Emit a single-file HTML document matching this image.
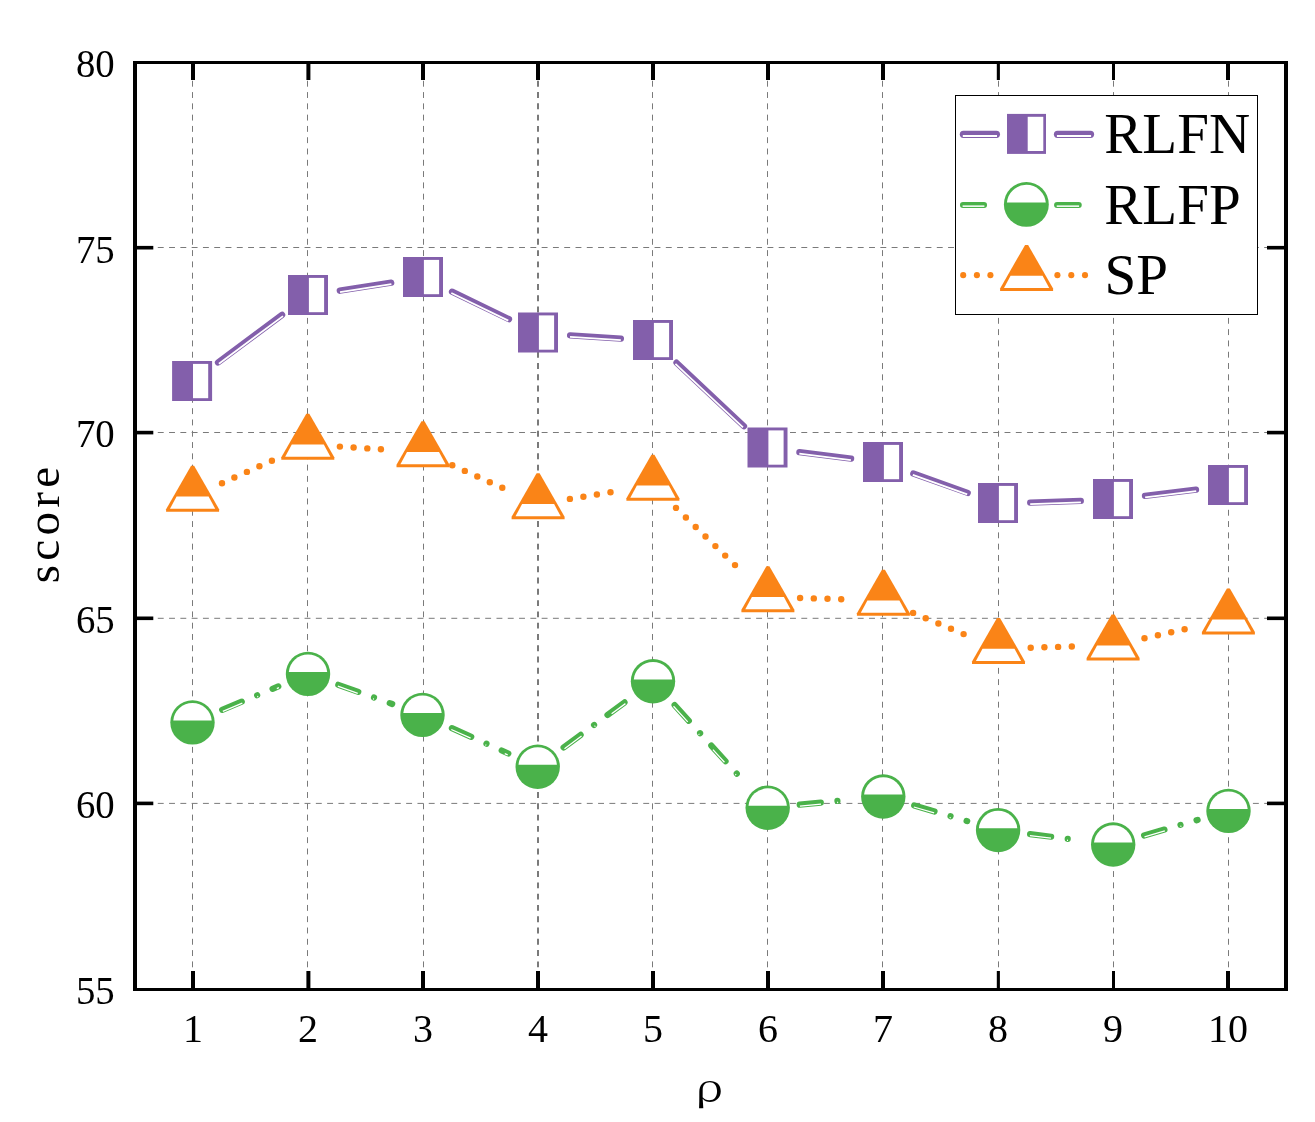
<!DOCTYPE html>
<html><head><meta charset="utf-8"><title>score vs ρ</title>
<style>html,body{margin:0;padding:0;background:#fff;}svg{display:block;}</style></head>
<body>
<svg width="1315" height="1122" viewBox="0 0 1315 1122">
<rect x="0" y="0" width="1315" height="1122" fill="#fff"/>
<g stroke="#7a7a7a" stroke-width="1" stroke-dasharray="5.9 5.39" fill="none">
<line x1="192.5" y1="69.5" x2="192.5" y2="988"/>
<line x1="307.5" y1="69.5" x2="307.5" y2="988"/>
<line x1="423.5" y1="69.5" x2="423.5" y2="988"/>
<line x1="538" y1="69.5" x2="538" y2="988" stroke-width="2"/>
<line x1="652.5" y1="69.5" x2="652.5" y2="988"/>
<line x1="767.5" y1="69.5" x2="767.5" y2="988"/>
<line x1="882.5" y1="69.5" x2="882.5" y2="988"/>
<line x1="998.5" y1="69.5" x2="998.5" y2="988"/>
<line x1="1113.5" y1="69.5" x2="1113.5" y2="988"/>
<line x1="1228.5" y1="69.5" x2="1228.5" y2="988"/>
<line x1="146.5" y1="247.5" x2="1284" y2="247.5"/>
<line x1="146.5" y1="432.5" x2="1284" y2="432.5"/>
<line x1="146.5" y1="618.3" x2="1284" y2="618.3"/>
<line x1="146.5" y1="803.4" x2="1284" y2="803.4"/>
</g>
<g fill="none" stroke-linecap="round">
<line x1="218.0" y1="362.5" x2="282.1" y2="314.9" stroke="#835FAB" stroke-width="6.3"/>
<line x1="218.9" y1="363.7" x2="283.0" y2="316.1" stroke="#fff" stroke-width="1.8" stroke-linecap="butt"/>
<line x1="339.8" y1="290.7" x2="391.2" y2="282.7" stroke="#835FAB" stroke-width="6.3"/>
<line x1="340.0" y1="292.2" x2="391.4" y2="284.2" stroke="#fff" stroke-width="1.8" stroke-linecap="butt"/>
<line x1="452.0" y1="291.7" x2="509.0" y2="319.2" stroke="#835FAB" stroke-width="6.3"/>
<line x1="451.3" y1="293.0" x2="508.3" y2="320.6" stroke="#fff" stroke-width="1.8" stroke-linecap="butt"/>
<line x1="570.1" y1="335.3" x2="620.9" y2="338.6" stroke="#835FAB" stroke-width="6.3"/>
<line x1="570.0" y1="336.8" x2="620.8" y2="340.1" stroke="#fff" stroke-width="1.8" stroke-linecap="butt"/>
<line x1="676.5" y1="362.7" x2="744.0" y2="426.2" stroke="#835FAB" stroke-width="6.3"/>
<line x1="675.4" y1="363.8" x2="743.0" y2="427.3" stroke="#fff" stroke-width="1.8" stroke-linecap="butt"/>
<line x1="799.4" y1="452.2" x2="851.1" y2="458.7" stroke="#835FAB" stroke-width="6.3"/>
<line x1="799.3" y1="453.7" x2="850.9" y2="460.2" stroke="#fff" stroke-width="1.8" stroke-linecap="butt"/>
<line x1="913.3" y1="473.5" x2="967.7" y2="492.9" stroke="#835FAB" stroke-width="6.3"/>
<line x1="912.8" y1="474.9" x2="967.2" y2="494.3" stroke="#fff" stroke-width="1.8" stroke-linecap="butt"/>
<line x1="1030.2" y1="502.6" x2="1080.8" y2="500.8" stroke="#835FAB" stroke-width="6.3"/>
<line x1="1030.2" y1="504.1" x2="1080.9" y2="502.3" stroke="#fff" stroke-width="1.8" stroke-linecap="butt"/>
<line x1="1145.0" y1="495.8" x2="1196.0" y2="489.6" stroke="#835FAB" stroke-width="6.3"/>
<line x1="1145.1" y1="497.3" x2="1196.2" y2="491.1" stroke="#fff" stroke-width="1.8" stroke-linecap="butt"/>
<line x1="222.2" y1="709.9" x2="278.3" y2="686.4" stroke="#4AB24A" stroke-width="6.2" stroke-dasharray="21.2 16.7 0.01 16.7"/>
<line x1="222.8" y1="711.3" x2="278.9" y2="687.7" stroke="#fff" stroke-width="1.3" stroke-linecap="butt" stroke-dasharray="21.2 16.2 1 20.2 17.2 16.2 1 100"/>
<line x1="338.3" y1="684.8" x2="392.2" y2="704.0" stroke="#4AB24A" stroke-width="6.2" stroke-dasharray="21.2 16.7 0.01 16.7"/>
<line x1="337.8" y1="686.2" x2="391.7" y2="705.5" stroke="#fff" stroke-width="1.3" stroke-linecap="butt" stroke-dasharray="21.2 16.2 1 20.2 17.2 16.2 1 100"/>
<line x1="451.9" y1="728.1" x2="508.3" y2="753.5" stroke="#4AB24A" stroke-width="6.2" stroke-dasharray="21.2 16.7 0.01 16.7"/>
<line x1="451.3" y1="729.5" x2="507.7" y2="754.9" stroke="#fff" stroke-width="1.3" stroke-linecap="butt" stroke-dasharray="21.2 16.2 1 20.2 17.2 16.2 1 100"/>
<line x1="563.6" y1="747.5" x2="627.1" y2="700.5" stroke="#4AB24A" stroke-width="6.2" stroke-dasharray="21.2 16.7 0.01 16.7"/>
<line x1="564.5" y1="748.7" x2="628.0" y2="701.7" stroke="#fff" stroke-width="1.3" stroke-linecap="butt" stroke-dasharray="21.2 16.2 1 20.2 17.2 16.2 1 100"/>
<line x1="674.6" y1="705.1" x2="746.1" y2="783.9" stroke="#4AB24A" stroke-width="6.2" stroke-dasharray="21.2 16.7 0.01 16.7"/>
<line x1="673.5" y1="706.2" x2="745.0" y2="784.9" stroke="#fff" stroke-width="1.3" stroke-linecap="butt" stroke-dasharray="21.2 16.2 1 20.2 17.2 16.2 1 100"/>
<line x1="799.7" y1="804.6" x2="851.3" y2="799.6" stroke="#4AB24A" stroke-width="6.2" stroke-dasharray="21.2 16.7 0.01 16.7"/>
<line x1="799.9" y1="806.1" x2="851.4" y2="801.1" stroke="#fff" stroke-width="1.3" stroke-linecap="butt" stroke-dasharray="21.2 16.2 1 20.2 17.2 16.2 1 100"/>
<line x1="914.2" y1="805.5" x2="967.2" y2="821.1" stroke="#4AB24A" stroke-width="6.2" stroke-dasharray="21.2 16.7 0.01 16.7"/>
<line x1="913.8" y1="807.0" x2="966.8" y2="822.5" stroke="#fff" stroke-width="1.3" stroke-linecap="butt" stroke-dasharray="21.2 16.2 1 20.2 17.2 16.2 1 100"/>
<line x1="1030.1" y1="834.1" x2="1081.2" y2="840.5" stroke="#4AB24A" stroke-width="6.2" stroke-dasharray="21.2 16.7 0.01 16.7"/>
<line x1="1029.9" y1="835.6" x2="1081.1" y2="842.0" stroke="#fff" stroke-width="1.3" stroke-linecap="butt" stroke-dasharray="21.2 16.2 1 20.2 17.2 16.2 1 100"/>
<line x1="1144.1" y1="835.5" x2="1197.6" y2="819.9" stroke="#4AB24A" stroke-width="6.2" stroke-dasharray="21.2 16.7 0.01 16.7"/>
<line x1="1144.5" y1="836.9" x2="1198.0" y2="821.3" stroke="#fff" stroke-width="1.3" stroke-linecap="butt" stroke-dasharray="21.2 16.2 1 20.2 17.2 16.2 1 100"/>
</g>
<g fill="#FA8417">
<circle cx="222.0" cy="483.2" r="3.2"/>
<circle cx="234.4" cy="477.5" r="3.2"/>
<circle cx="246.9" cy="471.9" r="3.2"/>
<circle cx="259.4" cy="466.3" r="3.2"/>
<circle cx="271.9" cy="460.7" r="3.2"/>
<circle cx="339.9" cy="446.6" r="3.2"/>
<circle cx="353.6" cy="447.5" r="3.2"/>
<circle cx="367.3" cy="448.4" r="3.2"/>
<circle cx="380.9" cy="449.3" r="3.2"/>
<circle cx="452.3" cy="465.3" r="3.2"/>
<circle cx="464.8" cy="470.9" r="3.2"/>
<circle cx="477.3" cy="476.5" r="3.2"/>
<circle cx="489.8" cy="482.2" r="3.2"/>
<circle cx="502.3" cy="487.8" r="3.2"/>
<circle cx="569.9" cy="498.9" r="3.2"/>
<circle cx="583.4" cy="496.7" r="3.2"/>
<circle cx="596.9" cy="494.5" r="3.2"/>
<circle cx="610.5" cy="492.3" r="3.2"/>
<circle cx="676.0" cy="507.9" r="3.2"/>
<circle cx="685.9" cy="517.5" r="3.2"/>
<circle cx="695.7" cy="527.0" r="3.2"/>
<circle cx="705.5" cy="536.5" r="3.2"/>
<circle cx="715.4" cy="546.1" r="3.2"/>
<circle cx="725.2" cy="555.6" r="3.2"/>
<circle cx="735.0" cy="565.1" r="3.2"/>
<circle cx="800.1" cy="598.0" r="3.2"/>
<circle cx="813.8" cy="598.4" r="3.2"/>
<circle cx="827.5" cy="598.8" r="3.2"/>
<circle cx="841.2" cy="599.2" r="3.2"/>
<circle cx="913.1" cy="612.9" r="3.2"/>
<circle cx="925.7" cy="618.2" r="3.2"/>
<circle cx="938.4" cy="623.5" r="3.2"/>
<circle cx="951.0" cy="628.8" r="3.2"/>
<circle cx="963.6" cy="634.1" r="3.2"/>
<circle cx="1030.7" cy="647.7" r="3.2"/>
<circle cx="1044.4" cy="647.3" r="3.2"/>
<circle cx="1058.1" cy="646.9" r="3.2"/>
<circle cx="1071.8" cy="646.5" r="3.2"/>
<circle cx="1144.5" cy="638.2" r="3.2"/>
<circle cx="1157.9" cy="635.2" r="3.2"/>
<circle cx="1171.2" cy="632.2" r="3.2"/>
<circle cx="1184.6" cy="629.2" r="3.2"/>
</g>
<rect x="172.1" y="361" width="40" height="40" fill="#835FAB"/>
<rect x="193.0" y="363.9" width="15.2" height="34.3" fill="#fff"/>
<rect x="288" y="275" width="40" height="40" fill="#835FAB"/>
<rect x="308.9" y="277.9" width="15.2" height="34.3" fill="#fff"/>
<rect x="403" y="257" width="40" height="40" fill="#835FAB"/>
<rect x="423.9" y="259.9" width="15.2" height="34.3" fill="#fff"/>
<rect x="518" y="312.5" width="40" height="40" fill="#835FAB"/>
<rect x="538.9" y="315.4" width="15.2" height="34.3" fill="#fff"/>
<rect x="633" y="320" width="40" height="40" fill="#835FAB"/>
<rect x="653.9" y="322.9" width="15.2" height="34.3" fill="#fff"/>
<rect x="747.5" y="427.5" width="40" height="40" fill="#835FAB"/>
<rect x="768.4" y="430.4" width="15.2" height="34.3" fill="#fff"/>
<rect x="863" y="442" width="40" height="40" fill="#835FAB"/>
<rect x="883.9" y="444.9" width="15.2" height="34.3" fill="#fff"/>
<rect x="978" y="483" width="40" height="40" fill="#835FAB"/>
<rect x="998.9" y="485.9" width="15.2" height="34.3" fill="#fff"/>
<rect x="1093" y="479" width="40" height="40" fill="#835FAB"/>
<rect x="1113.9" y="481.9" width="15.2" height="34.3" fill="#fff"/>
<rect x="1208" y="465" width="40" height="40" fill="#835FAB"/>
<rect x="1228.9" y="467.9" width="15.2" height="34.3" fill="#fff"/>
<circle cx="192.5" cy="722.4" r="22.2" fill="#4AB24A"/>
<path d="M173.29 720.50 A19.3 19.3 0 0 1 211.71 720.50 Z" fill="#fff"/>
<circle cx="308" cy="673.9" r="22.2" fill="#4AB24A"/>
<path d="M288.79 672.00 A19.3 19.3 0 0 1 327.21 672.00 Z" fill="#fff"/>
<circle cx="422.5" cy="714.9" r="22.2" fill="#4AB24A"/>
<path d="M403.29 713.00 A19.3 19.3 0 0 1 441.71 713.00 Z" fill="#fff"/>
<circle cx="537.7" cy="766.7" r="22.2" fill="#4AB24A"/>
<path d="M518.49 764.80 A19.3 19.3 0 0 1 556.91 764.80 Z" fill="#fff"/>
<circle cx="653" cy="681.3" r="22.2" fill="#4AB24A"/>
<path d="M633.79 679.40 A19.3 19.3 0 0 1 672.21 679.40 Z" fill="#fff"/>
<circle cx="767.7" cy="807.7" r="22.2" fill="#4AB24A"/>
<path d="M748.49 805.80 A19.3 19.3 0 0 1 786.91 805.80 Z" fill="#fff"/>
<circle cx="883.3" cy="796.5" r="22.2" fill="#4AB24A"/>
<path d="M864.09 794.60 A19.3 19.3 0 0 1 902.51 794.60 Z" fill="#fff"/>
<circle cx="998.1" cy="830.1" r="22.2" fill="#4AB24A"/>
<path d="M978.89 828.20 A19.3 19.3 0 0 1 1017.31 828.20 Z" fill="#fff"/>
<circle cx="1113.2" cy="844.5" r="22.2" fill="#4AB24A"/>
<path d="M1093.99 842.60 A19.3 19.3 0 0 1 1132.41 842.60 Z" fill="#fff"/>
<circle cx="1228.5" cy="810.9" r="22.2" fill="#4AB24A"/>
<path d="M1209.29 809.00 A19.3 19.3 0 0 1 1247.71 809.00 Z" fill="#fff"/>
<path d="M191.1 465.7 L194.1 465.7 L219.1 509.2 L219.1 511.7 L166.1 511.7 L166.1 509.2 Z" fill="#FA8417"/>
<path d="M176.6 496.5 L208.6 496.5 L215.2 508.7 L170.0 508.7 Z" fill="#fff"/>
<path d="M306.3 413.8 L309.3 413.8 L334.3 457.3 L334.3 459.8 L281.3 459.8 L281.3 457.3 Z" fill="#FA8417"/>
<path d="M291.8 444.6 L323.8 444.6 L330.4 456.8 L285.2 456.8 Z" fill="#fff"/>
<path d="M421.5 421.3 L424.5 421.3 L449.5 464.8 L449.5 467.3 L396.5 467.3 L396.5 464.8 Z" fill="#FA8417"/>
<path d="M407.0 452.1 L439.0 452.1 L445.6 464.3 L400.4 464.3 Z" fill="#fff"/>
<path d="M536.6 473.3 L539.6 473.3 L564.6 516.8 L564.6 519.3 L511.6 519.3 L511.6 516.8 Z" fill="#FA8417"/>
<path d="M522.1 504.1 L554.1 504.1 L560.7 516.3 L515.5 516.3 Z" fill="#fff"/>
<path d="M651.4 454.8 L654.4 454.8 L679.4 498.3 L679.4 500.8 L626.4 500.8 L626.4 498.3 Z" fill="#FA8417"/>
<path d="M636.9 485.6 L668.9 485.6 L675.5 497.8 L630.3 497.8 Z" fill="#fff"/>
<path d="M766.4 566.3 L769.4 566.3 L794.4 609.8 L794.4 612.3 L741.4 612.3 L741.4 609.8 Z" fill="#FA8417"/>
<path d="M751.9 597.1 L783.9 597.1 L790.5 609.3 L745.3 609.3 Z" fill="#fff"/>
<path d="M881.9 569.8 L884.9 569.8 L909.9 613.3 L909.9 615.8 L856.9 615.8 L856.9 613.3 Z" fill="#FA8417"/>
<path d="M867.4 600.6 L899.4 600.6 L906.0 612.8 L860.8 612.8 Z" fill="#fff"/>
<path d="M997.0 618.0 L1000.0 618.0 L1025.0 661.5 L1025.0 664.0 L972.0 664.0 L972.0 661.5 Z" fill="#FA8417"/>
<path d="M982.5 648.8 L1014.5 648.8 L1021.1 661.0 L975.9 661.0 Z" fill="#fff"/>
<path d="M1111.6 614.6 L1114.6 614.6 L1139.6 658.1 L1139.6 660.6 L1086.6 660.6 L1086.6 658.1 Z" fill="#FA8417"/>
<path d="M1097.1 645.4 L1129.1 645.4 L1135.7 657.6 L1090.5 657.6 Z" fill="#fff"/>
<path d="M1226.9 588.6 L1229.9 588.6 L1254.9 632.1 L1254.9 634.6 L1201.9 634.6 L1201.9 632.1 Z" fill="#FA8417"/>
<path d="M1212.4 619.4 L1244.4 619.4 L1251.0 631.6 L1205.8 631.6 Z" fill="#fff"/>
<g fill="#000" >
<rect x="133" y="61" width="4" height="930"/>
<rect x="1284" y="61" width="4" height="930"/>
<rect x="133" y="61" width="1155" height="3"/>
<rect x="133" y="988" width="1155" height="3"/>
<rect x="191" y="64" width="4" height="16"/>
<rect x="191" y="971" width="4" height="17"/>
<rect x="306.4" y="64" width="4" height="16"/>
<rect x="306.4" y="971" width="4" height="17"/>
<rect x="421" y="64" width="4" height="16"/>
<rect x="421" y="971" width="4" height="17"/>
<rect x="536" y="64" width="4" height="16"/>
<rect x="536" y="971" width="4" height="17"/>
<rect x="651" y="64" width="4" height="16"/>
<rect x="651" y="971" width="4" height="17"/>
<rect x="766" y="64" width="4" height="16"/>
<rect x="766" y="971" width="4" height="17"/>
<rect x="881" y="64" width="4" height="16"/>
<rect x="881" y="971" width="4" height="17"/>
<rect x="996.8" y="64" width="3.1" height="16"/>
<rect x="996.8" y="971" width="3.1" height="17"/>
<rect x="1112" y="64" width="3" height="16"/>
<rect x="1112" y="971" width="3" height="17"/>
<rect x="1226" y="64" width="4" height="16"/>
<rect x="1226" y="971" width="4" height="17"/>
</g><g fill="#000">
<rect x="137" y="245.89999999999998" width="16.3" height="3.6"/>
<rect x="1267" y="245.89999999999998" width="17" height="3.6"/>
<rect x="137" y="430.8" width="16.3" height="3.6"/>
<rect x="1267" y="430.8" width="17" height="3.6"/>
<rect x="137" y="616.5" width="16.3" height="3.6"/>
<rect x="1267" y="616.5" width="17" height="3.6"/>
<rect x="137" y="801.6" width="16.3" height="3.6"/>
<rect x="1267" y="801.6" width="17" height="3.6"/>
</g>
<g font-family="'Liberation Serif', serif" font-size="40" fill="#000">
<text transform="translate(114.7 77.3) scale(0.97 1)" text-anchor="end">80</text>
<text transform="translate(114.7 262.5) scale(0.97 1)" text-anchor="end">75</text>
<text transform="translate(114.7 447.4) scale(0.97 1)" text-anchor="end">70</text>
<text transform="translate(114.7 633.1) scale(0.97 1)" text-anchor="end">65</text>
<text transform="translate(114.7 818.2) scale(0.97 1)" text-anchor="end">60</text>
<text transform="translate(114.7 1004.3) scale(0.97 1)" text-anchor="end">55</text>
<text x="193" y="1041.7" text-anchor="middle">1</text>
<text x="308" y="1041.7" text-anchor="middle">2</text>
<text x="423" y="1041.7" text-anchor="middle">3</text>
<text x="538" y="1041.7" text-anchor="middle">4</text>
<text x="653" y="1041.7" text-anchor="middle">5</text>
<text x="768" y="1041.7" text-anchor="middle">6</text>
<text x="883" y="1041.7" text-anchor="middle">7</text>
<text x="998" y="1041.7" text-anchor="middle">8</text>
<text x="1113" y="1041.7" text-anchor="middle">9</text>
<text x="1228" y="1041.7" text-anchor="middle">10</text>
</g>
<text font-family="'Liberation Serif', serif" font-size="47" letter-spacing="4.3" transform="translate(59 523) rotate(-90)" text-anchor="middle" fill="#000">score</text>
<clipPath id="rc"><rect x="690" y="1070" width="40" height="38.2"/></clipPath>
<g clip-path="url(#rc)"><text font-family="'Noto Serif CJK SC', 'Liberation Serif', serif" font-size="38.5" transform="translate(709.3 1102) scale(1.2 1)" text-anchor="middle" fill="#000">ρ</text></g>
<rect x="955.5" y="95.5" width="302" height="219" fill="#fff" stroke="#000" stroke-width="1"/>
<g fill="none" stroke-linecap="round">
<line x1="963.4" y1="134.35" x2="996.4" y2="134.35" stroke="#835FAB" stroke-width="7.2"/>
<line x1="962.8" y1="135.95" x2="997.0" y2="135.95" stroke="#fff" stroke-width="2" stroke-linecap="butt"/>
<line x1="1057.5" y1="134.35" x2="1090.5" y2="134.35" stroke="#835FAB" stroke-width="7.2"/>
<line x1="1056.9" y1="135.95" x2="1091.1" y2="135.95" stroke="#fff" stroke-width="2" stroke-linecap="butt"/>
<line x1="963" y1="204.95" x2="984" y2="204.95" stroke="#4AB24A" stroke-width="6.1"/>
<line x1="962.6" y1="206.14999999999998" x2="984.4" y2="206.14999999999998" stroke="#fff" stroke-width="1.5" stroke-linecap="butt"/>
<line x1="1057.1" y1="204.95" x2="1078.7" y2="204.95" stroke="#4AB24A" stroke-width="6.1"/>
<line x1="1056.6999999999998" y1="206.14999999999998" x2="1079.1000000000001" y2="206.14999999999998" stroke="#fff" stroke-width="1.5" stroke-linecap="butt"/>
</g>
<g fill="#FA8417">
<circle cx="963.2" cy="275.15" r="3.05"/>
<circle cx="976.9" cy="275.15" r="3.05"/>
<circle cx="990.4" cy="275.15" r="3.05"/>
<circle cx="1057.4" cy="275.15" r="3.05"/>
<circle cx="1071.3" cy="275.15" r="3.05"/>
<circle cx="1085" cy="275.15" r="3.05"/>
</g>
<rect x="1007" y="113.9" width="39" height="40" fill="#835FAB"/>
<rect x="1027.7" y="116.8" width="15.6" height="34.2" fill="#fff"/>
<circle cx="1026.35" cy="204.4" r="22.45" fill="#4AB24A"/>
<path d="M1006.89 202.50 A19.55 19.55 0 0 1 1045.81 202.50 Z" fill="#fff"/>
<path d="M1025.1 245.0 L1028.1 245.0 L1053.1 288.5 L1053.1 291.0 L1000.1 291.0 L1000.1 288.5 Z" fill="#FA8417"/>
<path d="M1010.6 275.8 L1042.6 275.8 L1049.2 288.0 L1004.0 288.0 Z" fill="#fff"/>
<g font-family="'Liberation Serif', serif" font-size="56.6" fill="#000">
<text transform="translate(1104.3 153.4) scale(1.008 1)">RLFN</text>
<text transform="translate(1104.3 223.7) scale(1.008 1)">RLFP</text>
<text transform="translate(1104.6 294) scale(1.008 1)">SP</text>
</g>
</svg>
</body></html>
